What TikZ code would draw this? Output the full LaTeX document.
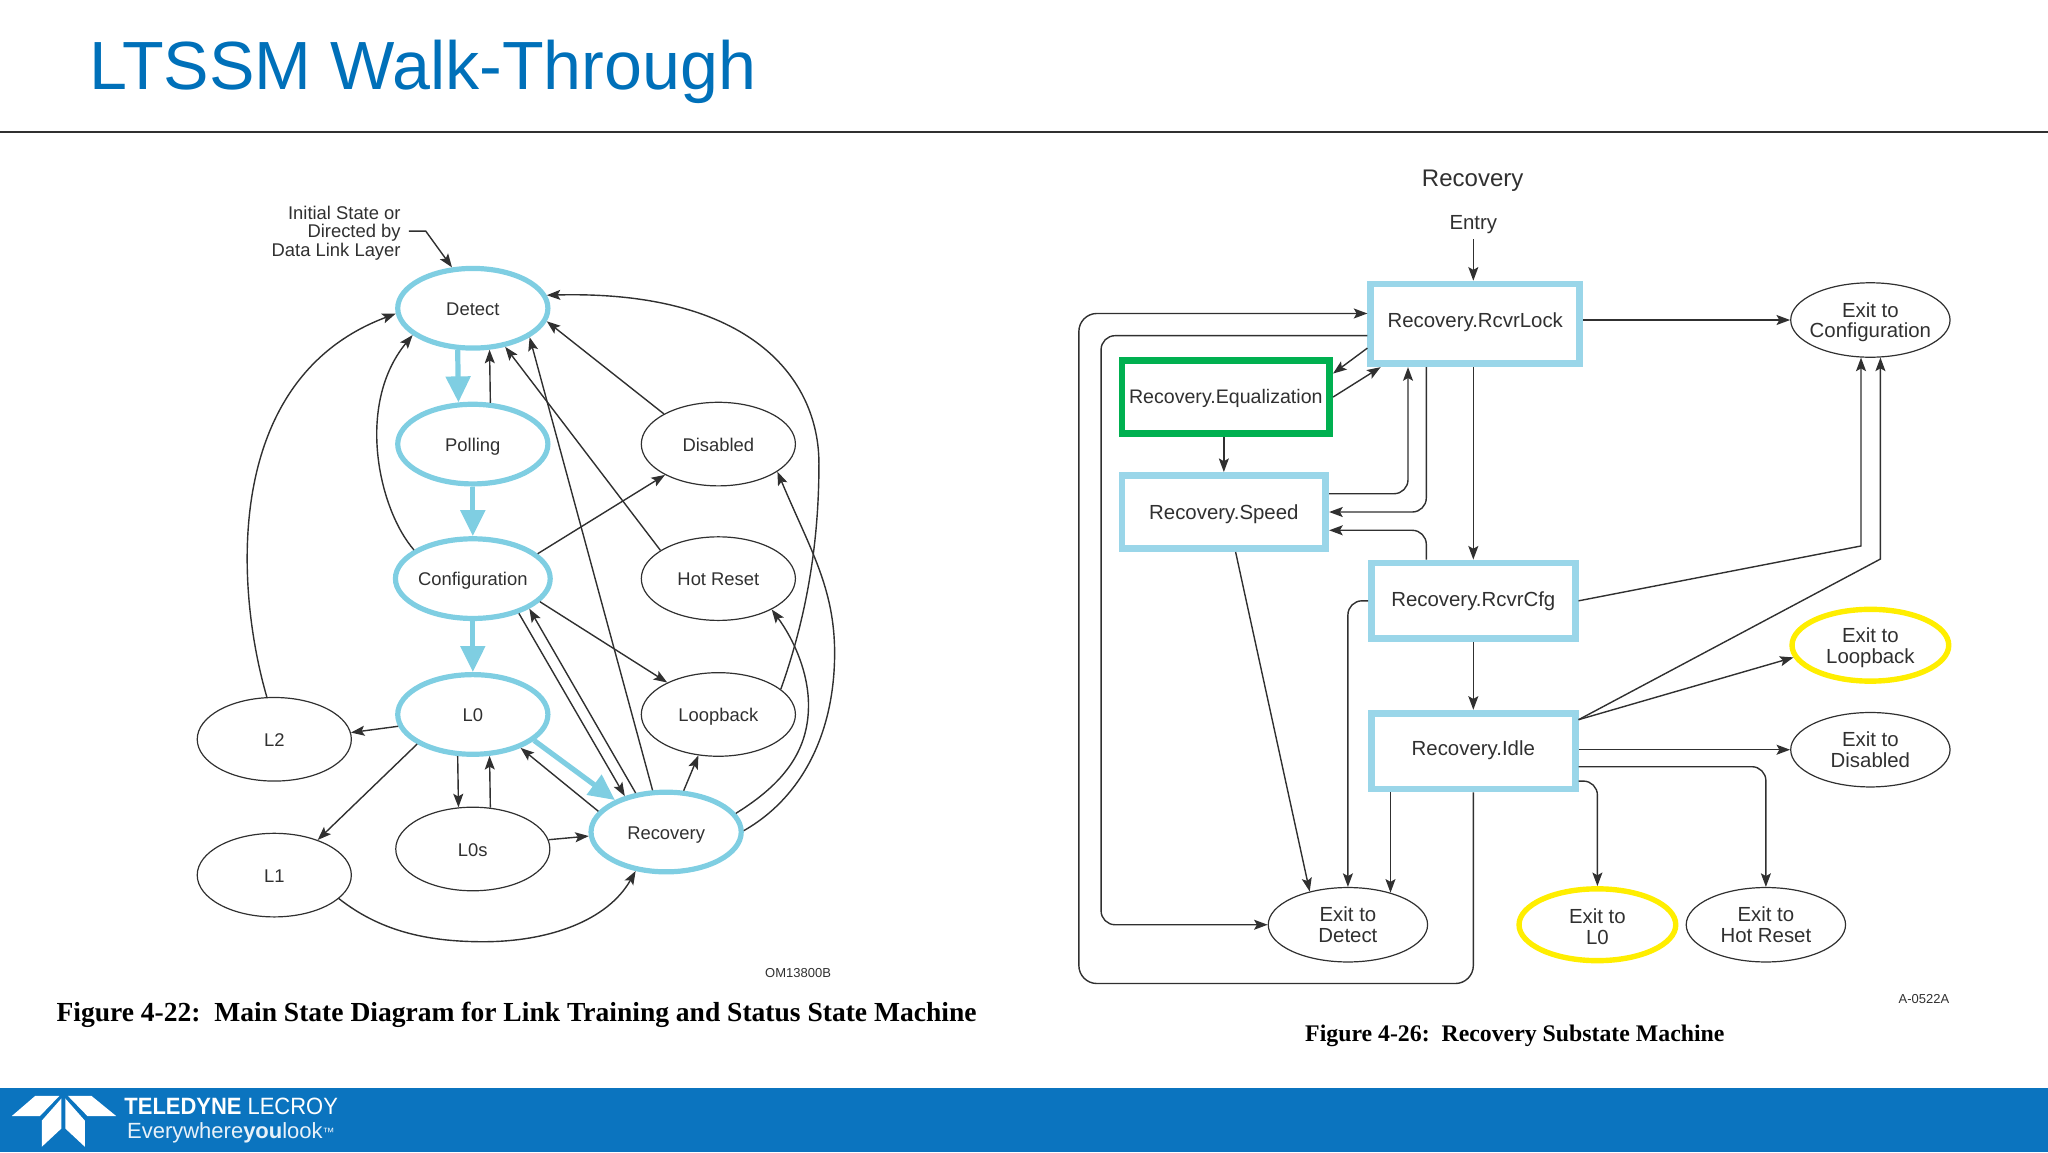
\documentclass[tikz,border=0pt]{standalone}
\usepackage{fontspec}
\setmainfont{Liberation Sans}
\newfontfamily\serifcap{Liberation Serif}
\usetikzlibrary{arrows.meta,shapes.geometric,calc}
\definecolor{ttl}{HTML}{0070B9}
\definecolor{foot}{HTML}{0B74BF}
\definecolor{sky}{HTML}{7FCEE2}
\definecolor{sky2}{HTML}{9AD6E9}
\definecolor{grn}{HTML}{00B050}
\definecolor{yel}{HTML}{FFEE00}
\definecolor{ink}{HTML}{303030}
\tikzset{
  arr/.style={draw=ink,line width=.7pt,-{Stealth[length=6.8pt,width=5pt,inset=1.4pt]}},
  thk/.style={draw=sky,line width=2.6pt,-{Triangle[length=13pt,width=12pt]},shorten >=0pt},
  st/.style={ellipse,draw=ink,line width=.6pt,minimum width=118*.653pt,minimum height=64*.653pt,inner sep=0pt,text=ink,text height=.72em,text depth=0pt,font=\fontsize{9.2}{10}\selectfont},
  blu/.style={st,draw=sky,line width=2.6pt,minimum width=115*.653pt,minimum height=61*.653pt},
  box/.style={rectangle,draw=sky2,line width=3.4pt,inner sep=0pt,text=ink,text height=.72em,text depth=0pt,font=\fontsize{10.2}{11}\selectfont},
  ex/.style={ellipse,draw=ink,line width=.6pt,minimum width=122*.653pt,minimum height=57*.653pt,inner ysep=0pt,inner xsep=-10pt,align=center,text=ink,text depth=0pt,font=\fontsize{10.2}{10.4}\selectfont},
  yex/.style={ex,draw=yel,line width=2.7pt,minimum width=120*.653pt,minimum height=55*.653pt},
  lab/.style={text=ink,inner sep=0pt},
}
\begin{document}
\begin{tikzpicture}[x=0.653061pt,y=-0.653061pt]
\useasboundingbox (0,0) rectangle (1568,882);
% header and footer
\node[anchor=west,inner sep=0pt,text=ttl,font=\fontsize{34.1}{36}\selectfont] (title) at (68,55) {LTSSM Walk-Through};
\coordinate (ruleL) at (0,101); \coordinate (ruleR) at (1568,101);
\draw[ink,line width=.7pt] (ruleL) -- (ruleR);
\fill[foot] (0,833) rectangle (1568,882);
\fill[white] (9,854.5) -- (27,839) -- (45.5,839) -- (30.5,854.5) -- cycle;
\fill[white] (52,839) -- (70,839) -- (89,854.5) -- (67,854.5) -- cycle;
\fill[white] (47,841) -- (32,858) -- (32,878) -- (47,864) -- cycle;
\fill[white] (50,841) -- (65,858) -- (65,878) -- (50,864) -- cycle;
\node[anchor=west,inner sep=0pt,text=white] (brand) at (95,847) {\scalebox{.93}[1]{\fontsize{11.8}{12}\selectfont\textbf{TELEDYNE} LECROY}};
\node[anchor=west,inner sep=0pt,text=white!90!foot] (tag) at (97,867) {\fontsize{11}{12}\selectfont Everywhere\textbf{you}look\raisebox{.1ex}{\fontsize{6}{6}\selectfont ™}};

% left diagram nodes
\node[blu] (Detect) at (362,236) {Detect};
\node[blu] (Polling) at (362,340) {Polling};
\node[blu] (Config) at (362,443) {Configuration};
\node[blu] (L0) at (362,547) {L0};
\node[st] (L0s) at (362,650) {L0s};
\node[st] (L1) at (210,670) {L1};
\node[st] (L2) at (210,566) {L2};
\node[blu] (Rec) at (510,637) {Recovery};
\node[st] (Dis) at (550,340) {Disabled};
\node[st] (Hot) at (550,443) {Hot Reset};
\node[st] (Loop) at (550,547) {Loopback};
\node[lab,align=right,anchor=east,font=\fontsize{9.2}{9.2}\selectfont] (init) at (307,178.5) {Initial State or\\Directed by\\Data Link Layer};
\coordinate (initA) at (313,177);
\draw[arr] (initA) -- (326,177) -- (Detect.117);
\draw[thk] (Detect.250.7) -- (Polling.109.3);
\draw[arr] (Polling.67.4) -- (Detect.292.6);
\draw[thk] (Polling.south) -- (Config.north);
\draw[thk] (Config.south) -- (L0.north);
\draw[arr] (L0.250.7) -- (L0s.109.3);
\draw[arr] (L0s.67.4) -- (L0.292.6);
\draw[arr] (L0.189) -- (L2.5.5);
\draw[arr] (L0.208) -- (L1.39);
\draw[thk] (L0.337) -- (Rec.148);
\draw[arr] (Rec.163) -- (L0.325);
\draw[arr] (Rec.67) -- (Loop.244);
\draw[arr] (Config.323) -- (Rec.139);
\draw[arr] (Rec.128) -- (Config.332);
\draw[arr] (Rec.108) -- (Detect.333);
\draw[arr] (Config.341) -- (Loop.148);
\draw[arr] (Config.21) -- (Dis.210);
\draw[arr] (Config.154) .. controls (290,390) and (272,310) .. (Detect.204);
\draw[arr] (L2.100) .. controls (180,450) and (170,290) .. (Detect.184);
\draw[arr] (Hot.154) -- (Detect.310);
\draw[arr] (Dis.151) -- (Detect.350);
\draw[arr] (Loop.22.6) .. controls (622,460) and (627,400) .. (627,355) .. controls (627,290) and (575,222) .. (Detect.10.6);
\draw[arr] (Rec.15) .. controls (600,600) and (619,575) .. (619,540) .. controls (619,515) and (608,490) .. (Hot.330);
\draw[arr] (Rec.1) .. controls (615,610) and (639,560) .. (639,500) .. controls (639,450) and (620,420) .. (Dis.335);
\draw[arr] (L1.340) .. controls (290,712) and (325,721) .. (370,721) .. controls (420,721) and (465,705) .. (Rec.232);
\draw[arr] (L0s.7.7) -- (Rec.183);
\node[lab,font=\fontsize{6.5}{7}\selectfont] (om) at (611,745) {OM13800B};
\node[anchor=west,inner sep=0pt,text=black,font=\serifcap\bfseries\fontsize{13.77}{15}\selectfont] (cap1) at (43,777) {Figure 4-22:\ \ Main State Diagram for Link Training and Status State Machine};

% right diagram nodes
\node[lab,font=\fontsize{12}{13}\selectfont] (rect) at (1127.5,138.5) {Recovery};
\node[lab,font=\fontsize{10.2}{11}\selectfont] (Entry) at (1128,172) {Entry};
\node[box,minimum width=160*.653pt,minimum height=61*.653pt] (RL) at (1129.5,248) {\raisebox{1.8pt}{Recovery.RcvrLock}};
\node[box,draw=grn,minimum width=159*.653pt,minimum height=56*.653pt,font=\fontsize{9.8}{11}\selectfont] (Eq) at (938.5,304) {\raisebox{.6pt}{Recovery.Equalization}};
\node[box,minimum width=156*.653pt,minimum height=56*.653pt] (Sp) at (937,392) {Recovery.Speed};
\node[box,minimum width=156*.653pt,minimum height=58*.653pt] (Cfg) at (1128,460) {\raisebox{.6pt}{Recovery.RcvrCfg}};
\node[box,minimum width=156*.653pt,minimum height=58*.653pt] (Idle) at (1128,575) {\raisebox{1.2pt}{Recovery.Idle}};
\node[ex] (ED) at (1032,708) {Exit to\\Detect};
\node[yex] (EL0) at (1223,708) {\raisebox{-1.8pt}{Exit to}\\\raisebox{-1.8pt}{L0}};
\node[ex] (EH) at (1352,708) {Exit to\\Hot Reset};
\node[ex] (EC) at (1432,245) {Exit to\\Configuration};
\node[yex] (EL) at (1432,494) {Exit to\\Loopback};
\node[ex] (EDis) at (1432,574) {Exit to\\Disabled};

\draw[arr] (Entry.south) ++(0,4) -- (Entry.south |- RL.north);
\draw[arr] (RL.east |- EC.west) -- (EC.west);
\draw[arr,rounded corners=9pt] (Idle.south) -- (1128,753) -- (826,753) -- (826,240) -- (RL.west |- 0,240);
\draw[arr,rounded corners=7pt] (RL.west |- 0,257) -- (843,257) -- (843,708) -- (ED.west);
\draw[arr] (RL.west |- 0,266.5) -- (Eq.east |- 0,286);
\draw[arr] (Eq.east) -- (RL.south -| 1057,0);
\draw[arr] (Eq.south -| Sp.north) -- (Sp.north);
\draw[arr,rounded corners=7pt] (Sp.east |- 0,378) -- (1078,378) -- (RL.south -| 1078,0);
\draw[arr,rounded corners=7pt] (RL.south -| 1092,0) -- (1092,392) -- (Sp.east);
\draw[arr,rounded corners=7pt] (Cfg.north -| 1092,0) -- (1092,406) -- (Sp.east |- 0,406);
\draw[arr] (RL.south -| Cfg.north) -- (Cfg.north);
\draw[arr] (Cfg.south) -- (Idle.north);
\draw[arr] (Sp.south -| 946,0) -- (ED.139);
\draw[arr,rounded corners=7pt] (Cfg.west) -- (Cfg.west -| ED.north) -- (ED.north);
\draw[arr] (Idle.south -| ED.37.7) -- (ED.37.7);
\draw[arr] (Cfg.east) -- (EC.256.1 |- 0,418) -- (EC.256.1);
\draw[arr] (Idle.east |- 0,551) -- (EC.285.8 |- 0,428) -- (EC.285.8);
\draw[arr] (Idle.east |- 0,551) -- (EL.189);
\draw[arr] (Idle.east |- EDis.west) -- (EDis.west);
\draw[arr,rounded corners=7pt] (Idle.east |- 0,598) -- (EL0.north |- 0,598) -- (EL0.north);
\draw[arr,rounded corners=7pt] (Idle.east |- 0,587) -- (EH.north |- 0,587) -- (EH.north);
\node[lab,font=\fontsize{6.5}{7}\selectfont] (ref) at (1473,765) {A-0522A};
\node[anchor=west,inner sep=0pt,text=black,font=\serifcap\bfseries\fontsize{11.9}{13}\selectfont] (cap2) at (999,793) {Figure 4-26:\ \ Recovery Substate Machine};
\end{tikzpicture}
\end{document}
